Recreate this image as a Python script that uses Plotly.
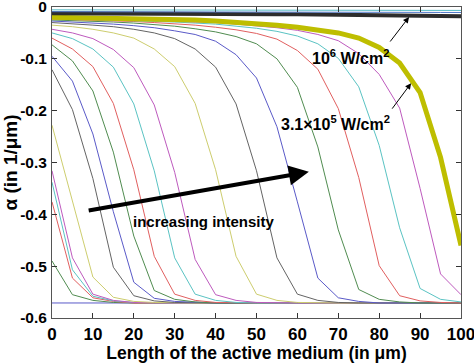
import plotly.graph_objects as go

length_um = [0, 5, 10, 15, 20, 25, 30, 35, 40, 45, 50, 55, 60, 65, 70, 75, 80, 85, 90, 95, 100]

# alpha (1/um) curves, lowest intensity first (MATLAB colour cycle b g r c m y k)
c01_blue = [-0.571] * 21
c02_green = [-0.490, -0.555, -0.566, -0.570, -0.571, -0.571, -0.571, -0.571, -0.571, -0.571, -0.571, -0.571, -0.571, -0.571, -0.571, -0.571, -0.571, -0.571, -0.571, -0.571, -0.571]
c03_red = [-0.376, -0.523, -0.561, -0.568, -0.571, -0.571, -0.571, -0.571, -0.571, -0.571, -0.571, -0.571, -0.571, -0.571, -0.571, -0.571, -0.571, -0.571, -0.571, -0.571, -0.571]
c04_cyan = [-0.338, -0.507, -0.558, -0.567, -0.570, -0.571, -0.571, -0.571, -0.571, -0.571, -0.571, -0.571, -0.571, -0.571, -0.571, -0.571, -0.571, -0.571, -0.571, -0.571, -0.571]
c05_magenta = [-0.316, -0.484, -0.554, -0.566, -0.570, -0.571, -0.571, -0.571, -0.571, -0.571, -0.571, -0.571, -0.571, -0.571, -0.571, -0.571, -0.571, -0.571, -0.571, -0.571, -0.571]
c06_yellow = [-0.228, -0.372, -0.521, -0.560, -0.568, -0.570, -0.571, -0.571, -0.571, -0.571, -0.571, -0.571, -0.571, -0.571, -0.571, -0.571, -0.571, -0.571, -0.571, -0.571, -0.571]
c07_gray = [-0.121, -0.198, -0.331, -0.502, -0.557, -0.567, -0.570, -0.571, -0.571, -0.571, -0.571, -0.571, -0.571, -0.571, -0.571, -0.571, -0.571, -0.571, -0.571, -0.571, -0.571]
c08_blue = [-0.095, -0.143, -0.245, -0.395, -0.531, -0.562, -0.568, -0.570, -0.571, -0.571, -0.571, -0.571, -0.571, -0.571, -0.571, -0.571, -0.571, -0.571, -0.571, -0.571, -0.571]
c09_green = [-0.073, -0.104, -0.162, -0.280, -0.442, -0.547, -0.564, -0.569, -0.571, -0.571, -0.571, -0.571, -0.571, -0.571, -0.571, -0.571, -0.571, -0.571, -0.571, -0.571, -0.571]
c10_red = [-0.060, -0.081, -0.115, -0.186, -0.314, -0.481, -0.554, -0.566, -0.570, -0.571, -0.571, -0.571, -0.571, -0.571, -0.571, -0.571, -0.571, -0.571, -0.571, -0.571, -0.571]
c11_cyan = [-0.050, -0.061, -0.081, -0.116, -0.187, -0.316, -0.484, -0.554, -0.566, -0.570, -0.571, -0.571, -0.571, -0.571, -0.571, -0.571, -0.571, -0.571, -0.571, -0.571, -0.571]
c12_magenta = [-0.043, -0.050, -0.061, -0.082, -0.117, -0.189, -0.319, -0.487, -0.555, -0.566, -0.570, -0.571, -0.571, -0.571, -0.571, -0.571, -0.571, -0.571, -0.571, -0.571, -0.571]
c13_yellow = [-0.035, -0.038, -0.043, -0.050, -0.060, -0.081, -0.115, -0.186, -0.314, -0.481, -0.554, -0.566, -0.570, -0.571, -0.571, -0.571, -0.571, -0.571, -0.571, -0.571, -0.571]
c14_gray = [-0.030, -0.032, -0.035, -0.038, -0.043, -0.050, -0.061, -0.081, -0.116, -0.187, -0.316, -0.484, -0.554, -0.566, -0.570, -0.571, -0.571, -0.571, -0.571, -0.571, -0.571]
c15_blue = [-0.027, -0.029, -0.030, -0.033, -0.036, -0.040, -0.046, -0.053, -0.066, -0.092, -0.137, -0.231, -0.376, -0.523, -0.561, -0.568, -0.571, -0.571, -0.571, -0.571, -0.571]
c16_green = [-0.025, -0.026, -0.028, -0.029, -0.031, -0.034, -0.037, -0.042, -0.048, -0.057, -0.071, -0.100, -0.155, -0.270, -0.430, -0.545, -0.564, -0.569, -0.571, -0.571, -0.571]
c17_red = [-0.023, -0.024, -0.026, -0.027, -0.028, -0.030, -0.032, -0.035, -0.039, -0.044, -0.051, -0.062, -0.084, -0.120, -0.196, -0.329, -0.499, -0.557, -0.567, -0.570, -0.571]
c18_cyan = [-0.022, -0.023, -0.024, -0.025, -0.026, -0.028, -0.029, -0.031, -0.033, -0.037, -0.041, -0.047, -0.056, -0.071, -0.099, -0.154, -0.267, -0.426, -0.543, -0.564, -0.569]
c19_magenta = [-0.020, -0.021, -0.022, -0.023, -0.024, -0.026, -0.027, -0.029, -0.030, -0.033, -0.036, -0.040, -0.045, -0.053, -0.065, -0.090, -0.130, -0.195, -0.350, -0.515, -0.555]
c20_yellow_3e5 = [-0.020, -0.0205, -0.021, -0.0215, -0.022, -0.023, -0.024, -0.025, -0.027, -0.029, -0.032, -0.035, -0.039, -0.044, -0.050, -0.060, -0.078, -0.108, -0.165, -0.290, -0.460]
c21_gray_1e6 = [-0.0120, -0.0120, -0.0120, -0.0121, -0.0122, -0.0123, -0.0125, -0.0127, -0.0130, -0.0132, -0.0135, -0.0138, -0.0141, -0.0145, -0.0150, -0.0155, -0.0160, -0.0165, -0.0170, -0.0175, -0.0180]
c22_blue = [-0.0090, -0.0090, -0.0090, -0.0091, -0.0091, -0.0092, -0.0092, -0.0093, -0.0094, -0.0095, -0.0096, -0.0097, -0.0098, -0.0099, -0.0100, -0.0101, -0.0102, -0.0103, -0.0104, -0.0105, -0.0106]
c23_cyan = [-0.0055, -0.0055, -0.0055, -0.0055, -0.0056, -0.0056, -0.0056, -0.0057, -0.0057, -0.0058, -0.0058, -0.0059, -0.0059, -0.0060, -0.0060, -0.0061, -0.0062, -0.0063, -0.0064, -0.0065, -0.0066]

x_ticks = [0, 10, 20, 30, 40, 50, 60, 70, 80, 90, 100]
y_ticks = [0, -0.1, -0.2, -0.3, -0.4, -0.5, -0.6]
y_tick_labels = ["0", "-0.1", "-0.2", "-0.3", "-0.4", "-0.5", "-0.6"]

BLUE = "rgb(90,90,200)"
GREEN = "rgb(80,140,80)"
RED = "rgb(225,95,95)"
CYAN = "rgb(90,195,195)"
MAGENTA = "rgb(190,90,190)"
YELLOW = "rgb(205,205,110)"
GRAY = "rgb(100,100,100)"

thin = [
    (c01_blue, BLUE), (c02_green, GREEN), (c03_red, RED), (c04_cyan, CYAN),
    (c05_magenta, MAGENTA), (c06_yellow, YELLOW), (c07_gray, GRAY),
    (c08_blue, BLUE), (c09_green, GREEN), (c10_red, RED), (c11_cyan, CYAN),
    (c12_magenta, MAGENTA), (c13_yellow, YELLOW), (c14_gray, GRAY),
    (c15_blue, BLUE), (c16_green, GREEN), (c17_red, RED), (c18_cyan, CYAN),
    (c19_magenta, MAGENTA),
]

fig = go.Figure()
for ys, col in thin:
    fig.add_trace(go.Scatter(x=length_um, y=ys, mode="lines",
                             line=dict(color=col, width=1), hoverinfo="skip"))
fig.add_trace(go.Scatter(x=length_um, y=c20_yellow_3e5, mode="lines",
                         line=dict(color="rgb(190,190,0)", width=5)))
fig.add_trace(go.Scatter(x=length_um, y=c21_gray_1e6, mode="lines",
                         line=dict(color="rgb(45,45,45)", width=4)))
fig.add_trace(go.Scatter(x=length_um, y=c22_blue, mode="lines",
                         line=dict(color="rgb(80,120,200)", width=1)))
fig.add_trace(go.Scatter(x=length_um, y=c23_cyan, mode="lines",
                         line=dict(color="rgb(80,185,195)", width=1)))

FONT = "Liberation Sans, Arial, sans-serif"

fig.add_annotation(x=87.3, y=-0.0193, ax=82.4, ay=-0.0695, xref="x", yref="y",
                   axref="x", ayref="y", text="", showarrow=True, arrowhead=2,
                   arrowsize=1.2, arrowwidth=1, arrowcolor="black", standoff=0)
fig.add_annotation(x=87.8, y=-0.147, ax=82.9, ay=-0.199, xref="x", yref="y",
                   axref="x", ayref="y", text="", showarrow=True, arrowhead=2,
                   arrowsize=1.2, arrowwidth=1, arrowcolor="black", standoff=0)
fig.add_annotation(x=62.8, y=-0.318, ax=8.6, ay=-0.393, xref="x", yref="y",
                   axref="x", ayref="y", text="", showarrow=True, arrowhead=2,
                   arrowsize=1.0, arrowwidth=4, arrowcolor="black", standoff=0)

fig.add_annotation(x=72.9, y=-0.0965, xref="x", yref="y", showarrow=False,
                   text="<b>10<sup>6</sup> W/cm<sup>2</sup></b>",
                   font=dict(family=FONT, size=16, color="black"))
fig.add_annotation(x=69.4, y=-0.224, xref="x", yref="y", showarrow=False,
                   text="<b>3.1×10<sup>5</sup> W/cm<sup>2</sup></b>",
                   font=dict(family=FONT, size=16, color="black"))
fig.add_annotation(x=37.2, y=-0.413, xref="x", yref="y", showarrow=False,
                   text="<b>increasing intensity</b>",
                   font=dict(family=FONT, size=15, color="black"))

fig.update_layout(
    width=474, height=363,
    margin=dict(l=52, r=13, t=7, b=45, autoexpand=False),
    paper_bgcolor="white", plot_bgcolor="white",
    showlegend=False,
    font=dict(family=FONT, color="black"),
    xaxis=dict(
        range=[0, 100], tickvals=x_ticks, ticks="inside", ticklen=5,
        tickcolor="#333", showline=True, linecolor="#555", linewidth=1,
        mirror="ticks", showgrid=False, zeroline=False, automargin=False,
        ticklabeloverflow="allow",
        tickfont=dict(family=FONT, size=17, color="black", weight="bold"),
        ticklabelstandoff=1,
        title=dict(text="<b>Length of the active medium (in μm)</b>",
                   font=dict(family=FONT, size=17.5, color="black"), standoff=2),
    ),
    yaxis=dict(
        range=[-0.6, 0], tickvals=y_ticks, ticktext=y_tick_labels,
        ticks="inside", ticklen=5, tickcolor="#333", showline=True,
        linecolor="#555", linewidth=1, mirror="ticks", showgrid=False,
        zeroline=False, automargin=False, ticklabeloverflow="allow",
        tickfont=dict(family=FONT, size=15.5, color="black", weight="bold"),
        ticklabelstandoff=1,
        title=dict(text="<b>α (in 1/μm)</b>",
                   font=dict(family=FONT, size=19, color="black"), standoff=1),
    ),
)

fig.write_html("out.html",
               config={"displayModeBar": False},
               post_script="document.body.style.margin='0px';"
                           "document.body.style.padding='0px';")
